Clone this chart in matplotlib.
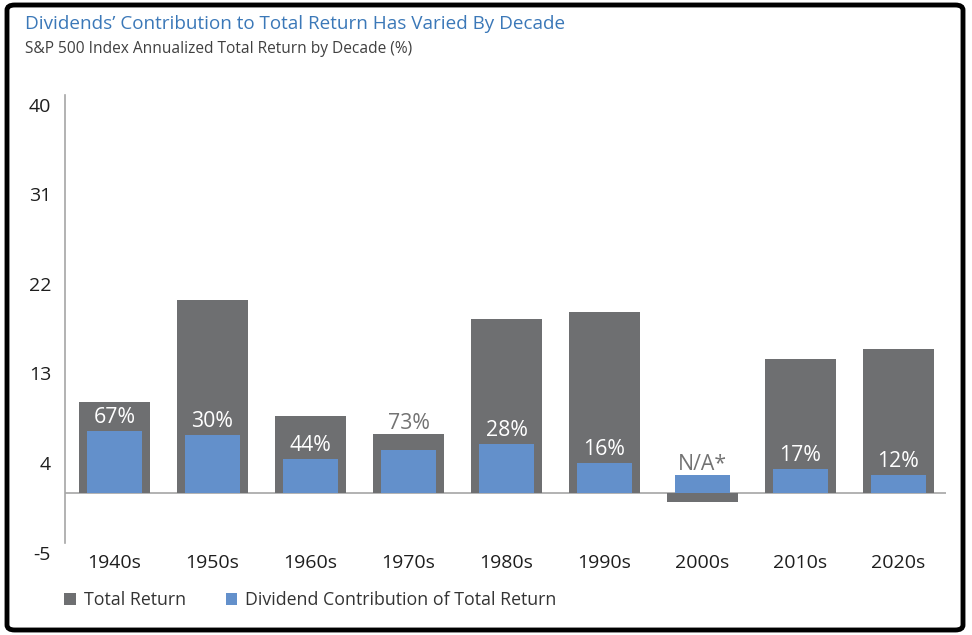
import matplotlib
matplotlib.use("Agg")
import matplotlib.pyplot as plt
import matplotlib.transforms as mtransforms
from matplotlib.patches import FancyBboxPatch

plt.rcParams['font.family'] = ['Open Sans', 'DejaVu Sans']

decades = ["1940s", "1950s", "1960s", "1970s", "1980s", "1990s", "2000s", "2010s", "2020s"]
total_return = [9.2, 19.4, 7.8, 5.9, 17.5, 18.2, -0.9, 13.5, 14.5]
dividend_part = [6.2, 5.8, 3.4, 4.3, 4.9, 3.0, 1.8, 2.4, 1.8]
share_labels = ["67%", "30%", "44%", "73%", "28%", "16%", "N/A*", "17%", "12%"]
label_above_bar = [False, False, False, True, False, False, True, False, False]
ytick_values = [-5, 4, 13, 22, 31, 40]

GRAY = "#6e6f71"
BLUE = "#6390cb"
LINE = "#a6a6a6"

fig = plt.figure(figsize=(9.72, 6.35), dpi=100)
ax = fig.add_axes([65/972, 1 - 543/635, (946-65)/972, (543-95)/635])

x = list(range(len(decades)))
ax.bar(x, total_return, width=0.725, color=GRAY, label="Total Return", zorder=2)
ax.bar(x, dividend_part, width=0.56, color=BLUE, label="Dividend Contribution of Total Return", zorder=3)
ax.axhline(0, color=LINE, lw=1.2, zorder=1)

for xi, tr, dv, lab, above in zip(x, total_return, dividend_part, share_labels, label_above_bar):
    if above:
        base = max(tr, dv)
        off = mtransforms.offset_copy(ax.transData, fig=fig, x=0, y=11*0.72, units='points')
        ax.text(xi, base, lab, transform=off, ha='center', va='center',
                color="#737373", fontsize=15.3, zorder=4)
    else:
        off = mtransforms.offset_copy(ax.transData, fig=fig, x=0, y=14*0.72, units='points')
        ax.text(xi, dv, lab, transform=off, ha='center', va='center',
                color="white", fontsize=15.3, zorder=4)

ax.set_xlim(-0.505, 8.485)
ax.set_ylim(-4.83, 39.97)
ax.set_xticks(x)
ax.set_xticklabels(decades, fontsize=14, color="#1e1e1e")
ax.set_yticks(ytick_values)
ax.set_yticklabels([str(v) for v in ytick_values], fontsize=14, color="#1e1e1e")
ax.tick_params(axis='both', length=0)
ax.tick_params(axis='x', pad=8)
ax.tick_params(axis='y', pad=10)
shift = mtransforms.ScaledTranslation(0, -9.5/100, fig.dpi_scale_trans)
for lbl in ax.get_yticklabels():
    lbl.set_transform(lbl.get_transform() + shift)

for s in ['top', 'right', 'bottom']:
    ax.spines[s].set_visible(False)
ax.spines['left'].set_color(LINE)
ax.spines['left'].set_linewidth(1.2)

leg = fig.legend(loc='center left', bbox_to_anchor=(64/972, 1 - 600/635), ncol=2,
                 frameon=False, fontsize=12.8, handlelength=0.65, handleheight=0.65,
                 handletextpad=0.45, columnspacing=2.25, borderpad=0, borderaxespad=0)
for t in leg.get_texts():
    t.set_color("#333333")

fig.text(25/972, 1 - 24/635, "Dividends\u2019 Contribution to Total Return Has Varied By Decade",
         fontsize=13.6, color="#3b78b8", ha='left', va='center')
fig.text(25/972, 1 - 49/635, "S&P 500 Index Annualized Total Return by Decade (%)",
         fontsize=11.2, color="#404040", ha='left', va='center')

frame = FancyBboxPatch((7/972, 5/635), (963-7)/972, (630-5)/635,
                       boxstyle="round,pad=0,rounding_size=0.008",
                       transform=fig.transFigure, fill=False, edgecolor="black", lw=3.5)
fig.patches.append(frame)

fig.savefig("out.png", dpi=100)
